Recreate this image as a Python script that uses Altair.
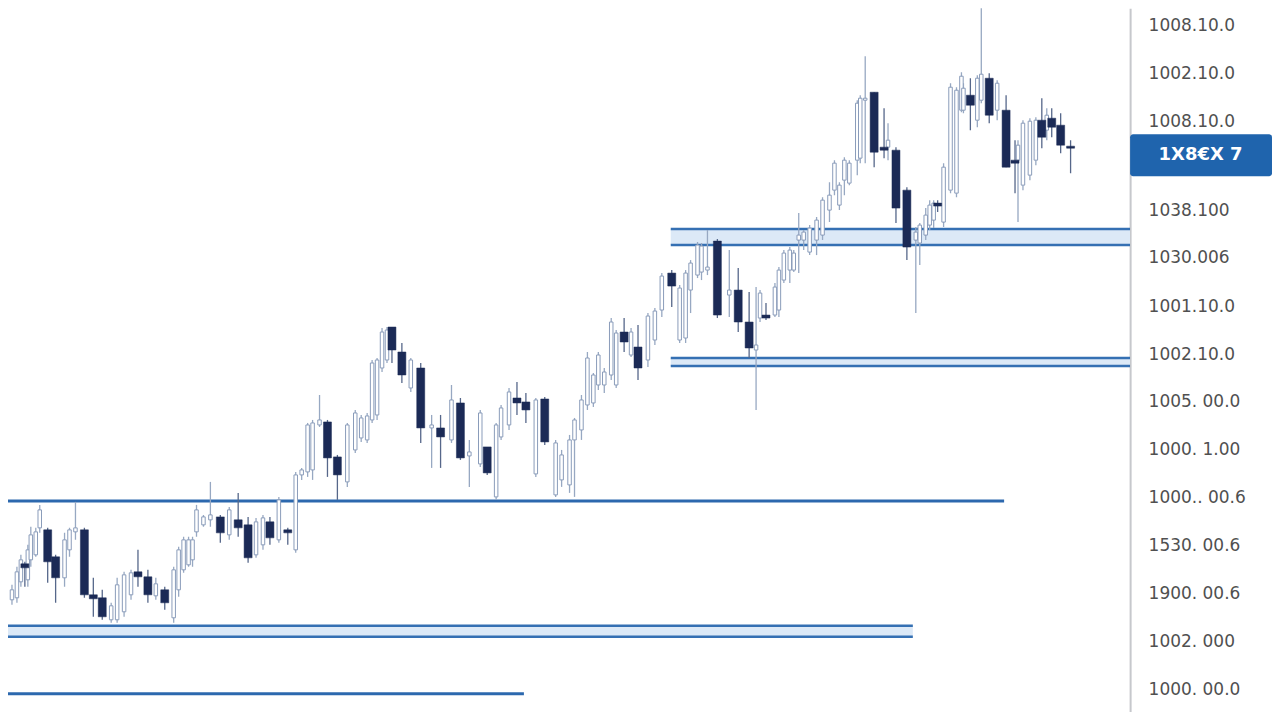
import altair as alt
import pandas as pd

# ---- candle data (time index, open, high, low, close) ----
bar_time = [4, 9, 13, 17, 20, 23, 28, 32, 40, 48, 57, 62, 68, 77, 86, 95, 104, 110, 117, 124,
            131, 141, 149, 158, 167, 172, 177, 182, 186, 190, 197, 204, 214, 223, 232, 242, 250, 257, 264, 273,
            282, 290, 296, 302, 307, 314, 322, 332, 342, 350, 356, 362, 367, 372, 377, 382, 387, 397, 406, 416,
            427, 436, 447, 456, 465, 476, 483, 492, 497, 505, 513, 522, 532, 541, 552, 558, 566, 571, 578, 584,
            590, 595, 601, 608, 613, 621, 628, 635, 645, 652, 659, 669, 677, 683, 688, 695, 699, 705, 715, 727,
            736, 747, 754, 758, 764, 773, 777, 782, 788, 792, 797, 802, 808, 815, 821, 828, 833, 838, 843, 848,
            856, 859, 864, 873, 883, 887, 895, 906, 915, 919, 925, 929, 933, 937, 943, 950, 956, 961, 963, 970,
            977, 981, 989, 997, 1006, 1015, 1018, 1023, 1030, 1036, 1042, 1047, 1052, 1061, 1071]
open_p = [120, 122, 138, 156, 140, 160, 165, 192, 190, 163, 142, 170, 188, 190, 125, 122, 100, 100, 108, 125,
          148, 143, 124, 130, 102, 130, 150, 155, 160, 188, 195, 200, 203, 185, 200, 195, 165, 175, 198, 180,
          190, 170, 245, 248, 250, 295, 298, 263, 238, 270, 282, 280, 300, 305, 352, 360, 393, 368, 332, 352,
          292, 292, 280, 317, 264, 256, 273, 223, 283, 295, 322, 318, 246, 321, 225, 240, 235, 280, 290, 315,
          317, 335, 335, 345, 335, 388, 365, 373, 360, 380, 410, 447, 380, 382, 430, 445, 448, 450, 479, 425,
          430, 398, 370, 402, 405, 405, 410, 440, 450, 450, 480, 480, 468, 480, 485, 510, 530, 515, 540, 537,
          560, 562, 620, 628, 573, 573, 570, 530, 480, 477, 485, 495, 500, 517, 498, 530, 527, 610, 610, 625,
          600, 620, 642, 610, 610, 560, 560, 535, 545, 560, 600, 590, 602, 595, 574]
high_p = [135, 153, 165, 158, 175, 193, 192, 215, 192, 165, 187, 192, 218, 192, 142, 130, 117, 142, 148, 150,
          170, 150, 142, 133, 153, 173, 183, 183, 183, 215, 205, 238, 205, 213, 227, 203, 202, 205, 203, 223,
          192, 248, 252, 297, 300, 325, 300, 265, 297, 310, 305, 307, 360, 362, 392, 393, 393, 377, 362, 357,
          305, 305, 335, 322, 280, 310, 273, 297, 315, 332, 338, 327, 322, 323, 280, 270, 285, 302, 325, 368,
          347, 368, 352, 402, 390, 402, 392, 395, 407, 412, 447, 450, 435, 450, 460, 478, 477, 490, 481, 470,
          452, 428, 433, 430, 417, 437, 453, 470, 473, 470, 507, 490, 495, 503, 523, 538, 560, 538, 563, 560,
          620, 625, 664, 628, 612, 597, 573, 533, 493, 497, 512, 520, 520, 520, 557, 637, 633, 648, 637, 642,
          645, 720, 647, 640, 625, 580, 580, 600, 602, 603, 622, 612, 612, 607, 580]
low_p = [115, 117, 133, 133, 133, 153, 163, 187, 137, 117, 133, 163, 180, 122, 103, 100, 97, 97, 103, 120,
         133, 117, 120, 110, 97, 123, 147, 153, 153, 183, 193, 193, 177, 180, 183, 157, 162, 170, 175, 177,
         175, 167, 240, 243, 240, 293, 243, 220, 233, 267, 278, 277, 297, 300, 348, 357, 357, 337, 328, 277,
         252, 252, 277, 260, 233, 253, 245, 220, 280, 290, 305, 297, 243, 275, 223, 233, 227, 223, 280, 310,
         313, 330, 327, 340, 332, 368, 363, 340, 353, 375, 403, 413, 377, 377, 407, 442, 440, 445, 402, 403,
         388, 362, 310, 398, 400, 403, 403, 437, 437, 448, 447, 470, 465, 465, 480, 498, 525, 510, 525, 535,
         545, 557, 557, 553, 562, 560, 497, 460, 407, 455, 480, 490, 492, 508, 493, 527, 523, 608, 607, 590,
         593, 617, 597, 600, 553, 527, 498, 530, 540, 555, 572, 580, 583, 567, 547]
close_p = [130, 148, 160, 152, 170, 185, 188, 210, 158, 142, 180, 190, 192, 125, 121, 103, 114, 135, 145, 147,
           143, 125, 136, 117, 150, 170, 180, 180, 180, 210, 203, 205, 187, 210, 192, 162, 198, 202, 182, 220,
           187, 245, 250, 295, 297, 300, 262, 245, 295, 307, 302, 304, 357, 360, 388, 390, 370, 345, 360, 292,
           295, 283, 320, 262, 268, 307, 247, 295, 312, 328, 317, 310, 320, 278, 277, 265, 280, 300, 320, 362,
           345, 365, 348, 398, 387, 378, 388, 352, 404, 409, 444, 434, 432, 447, 457, 475, 474, 453, 405, 430,
           398, 372, 375, 427, 402, 433, 450, 467, 470, 467, 485, 488, 492, 500, 520, 525, 557, 535, 560, 557,
           617, 622, 622, 568, 570, 580, 512, 473, 488, 495, 505, 515, 517, 514, 553, 633, 630, 644, 632, 615,
           642, 646, 605, 637, 553, 557, 575, 597, 599, 600, 583, 605, 593, 575, 572]

# ---- support / resistance zones ----
band_start = [668, 668, 0]
band_end = [1131, 1131, 912]
band_top = [491, 362, 94]
band_bottom = [475, 354, 83]

line_start = [0, 0]
line_end = [1004, 520]
line_level = [219, 26]

# ---- right price axis ----
tick_prices = [695, 647, 599, 510, 463, 414, 366, 318, 270, 222, 174, 126, 78, 30]
tick_labels = ["1008.10.0", "1002.10.0", "1008.10.0", "1038.100", "1030.006", "1001.10.0",
               "1002.10.0", "1005. 00.0", "1000. 1.00", "1000.. 00.6", "1530. 00.6",
               "1900. 00.6", "1002. 000", "1000. 00.0"]

# ---- current price tag ----
tag_price = [565]
tag_low = [544]
tag_high = [586]
tag_from = [1131]
tag_to = [1274]
tag_mid = [1202]
tag_text = ["1X8€X 7"]

df = pd.DataFrame({"t": bar_time, "o": open_p, "h": high_p, "l": low_p, "c": close_p})
df["dir"] = ["up" if c >= o else "down" for o, c in zip(open_p, close_p)]
bands = pd.DataFrame({"s": band_start, "e": band_end, "top": band_top, "bot": band_bottom})
lines = pd.DataFrame({"s": line_start, "e": line_end, "lvl": line_level})
tag = pd.DataFrame({"x0": tag_from, "x1": tag_to, "xm": tag_mid, "p": tag_price,
                    "lo": tag_low, "hi": tag_high, "txt": tag_text})

label_expr = ""
for p, lab in zip(tick_prices, tick_labels):
    label_expr += f"datum.value == {p} ? '{lab}' : "
label_expr += "''"

xs = alt.Scale(domain=[0, 1131], nice=False, zero=False, padding=0)
ys = alt.Scale(domain=[8, 712], nice=False, zero=False, padding=0)
yaxis = alt.Axis(orient="right", values=tick_prices, labelExpr=label_expr, title=None,
                 ticks=False, grid=False, domainColor="#c6c8cc", domainWidth=2,
                 labelFont="DejaVu Sans", labelFontSize=17, labelColor="#505050",
                 labelPadding=18, labelAlign="left", labelBaseline="middle",
                 labelOverlap=False, labelFlush=False)


def X(f):
    return alt.X(f, type="quantitative", scale=xs, axis=None)


def Y(f):
    return alt.Y(f, type="quantitative", scale=ys, axis=yaxis)


def Y2(f):
    return alt.Y2(f)


band_fill = alt.Chart(bands).mark_rect(fill="#dce9f7", clip=True).encode(
    x=X("s"), x2=alt.X2("e"), y=Y("top"), y2=Y2("bot"))
band_top_line = alt.Chart(bands).mark_rule(color="#3570b3", strokeWidth=2.5, clip=True).encode(
    x=X("s"), x2=alt.X2("e"), y=Y("top"))
band_bot_line = alt.Chart(bands).mark_rule(color="#3570b3", strokeWidth=2.5, clip=True).encode(
    x=X("s"), x2=alt.X2("e"), y=Y("bot"))
level_lines = alt.Chart(lines).mark_rule(color="#2c68ae", strokeWidth=3, clip=True).encode(
    x=X("s"), x2=alt.X2("e"), y=Y("lvl"))

up = df[df["dir"] == "up"]
down = df[df["dir"] == "down"]

wick_up = alt.Chart(up).mark_rule(color="#97a8c2", strokeWidth=1.3, clip=True).encode(
    x=X("t"), y=Y("l"), y2=Y2("h"))
wick_down = alt.Chart(down).mark_rule(color="#56678a", strokeWidth=1.3, clip=True).encode(
    x=X("t"), y=Y("l"), y2=Y2("h"))
body_up = alt.Chart(up).mark_bar(size=3.5, fill="#ffffff", stroke="#8a9cba", strokeWidth=1,
                                 clip=True).encode(x=X("t"), y=Y("o"), y2=Y2("c"))
body_down = alt.Chart(down).mark_bar(size=8, fill="#1b2a56", stroke="#1b2a56", strokeWidth=0.5,
                                     clip=True).encode(x=X("t"), y=Y("o"), y2=Y2("c"))

tag_box = alt.Chart(tag).mark_rect(fill="#1f64ad", cornerRadius=3).encode(
    x=X("x0"), x2=alt.X2("x1"), y=Y("lo"), y2=Y2("hi"))
tag_label = alt.Chart(tag).mark_text(color="#ffffff", font="DejaVu Sans", fontSize=18,
                                     fontWeight="bold", align="center", baseline="middle").encode(
    x=X("xm"), y=Y("p"), text="txt:N")

chart = alt.layer(band_fill, band_top_line, band_bot_line, level_lines,
                  wick_up, wick_down, body_up, body_down, tag_box, tag_label).properties(
    width=1123, height=704, padding=0, background="#ffffff"
).configure_view(strokeWidth=0)

chart.save("out.html", embed_options={"renderer": "svg", "actions": False})
